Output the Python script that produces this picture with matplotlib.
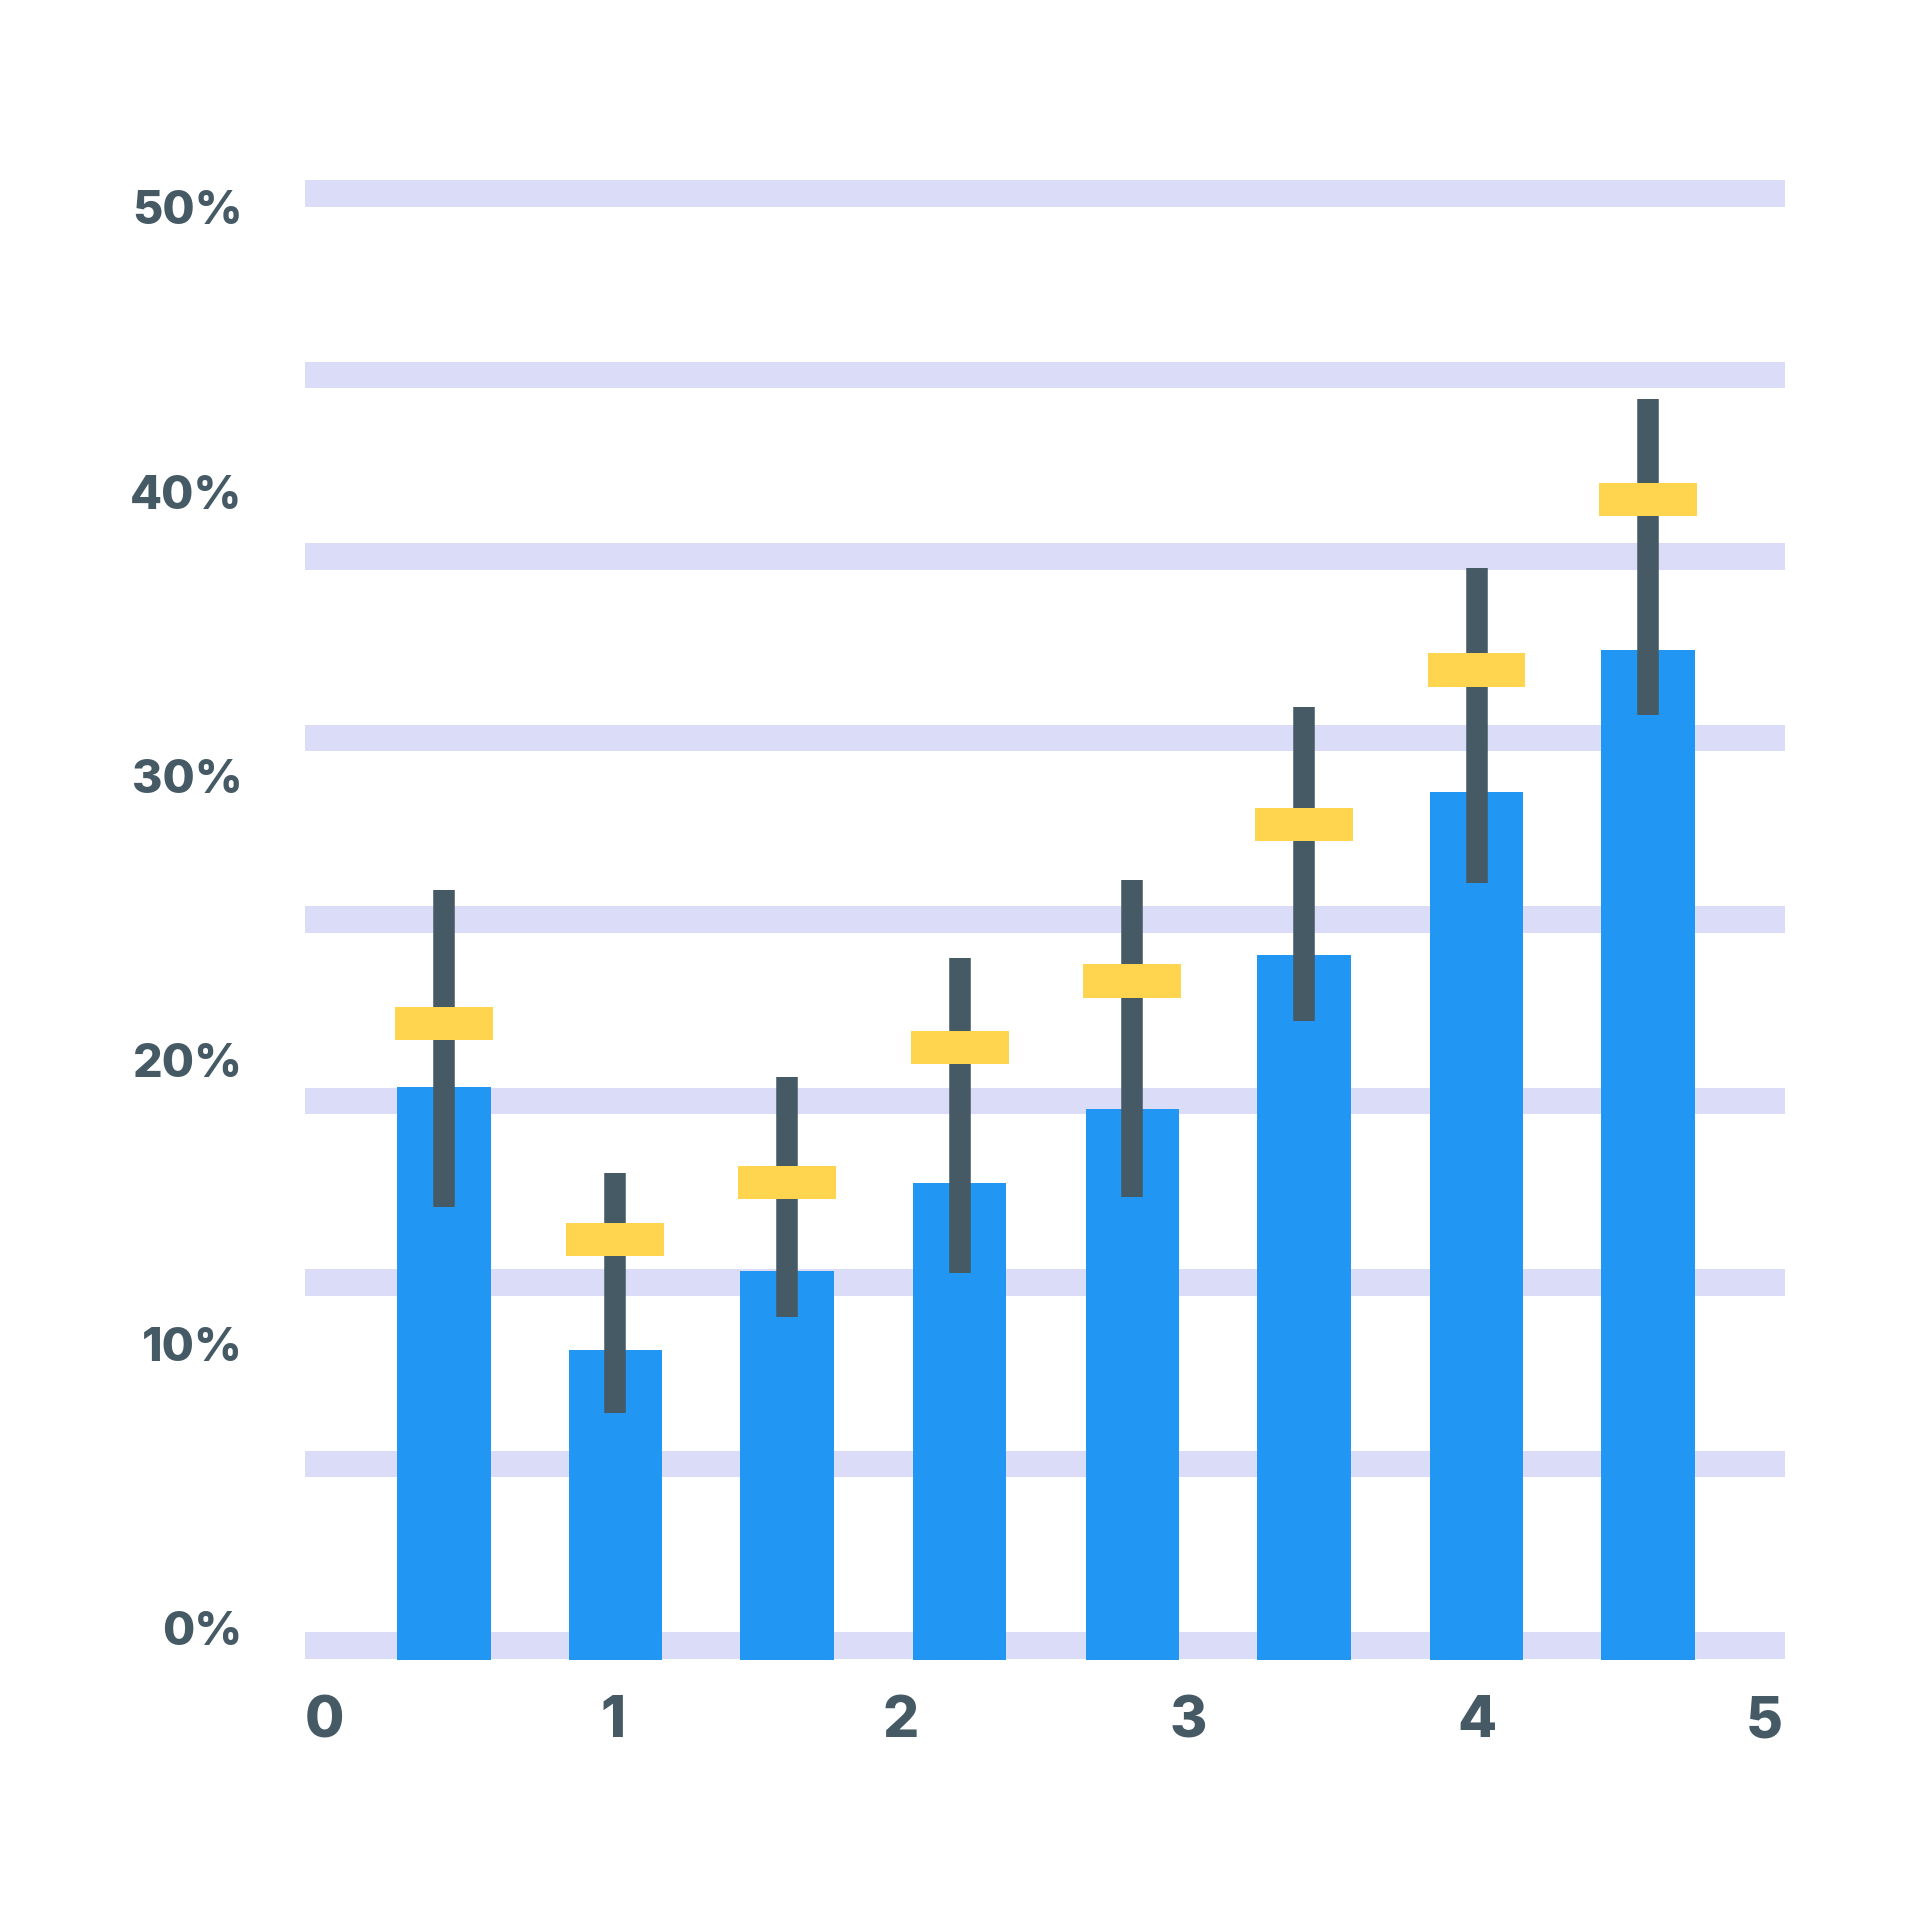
import numpy as np
import matplotlib
matplotlib.use("Agg")
from matplotlib import pyplot as plt

# data (percent)
positions = [0.415, 1.01, 1.605, 2.205, 2.805, 3.4, 4.0, 4.595]
bar_values = [19.05, 9.8, 12.6, 15.7, 18.3, 23.7, 29.45, 34.45]
mean_marks = [21.3, 13.7, 15.7, 20.45, 22.8, 28.3, 33.75, 39.75]
err_high = [26.0, 16.05, 19.4, 23.6, 26.35, 32.45, 37.35, 43.3]
err_low = [14.85, 7.6, 10.95, 12.5, 15.2, 21.4, 26.25, 32.15]
y_ticks = [0, 10, 20, 30, 40, 50]
y_labels = ["0%", "10%", "20%", "30%", "40%", "50%"]
x_ticks = [0, 1, 2, 3, 4, 5]
x_labels = ["0", "1", "2", "3", "4", "5"]

blue = "#2196f3"
yellow = "#ffd54f"
dark = "#455a64"
grid = "#dadcf8"

fig = plt.figure(figsize=(19.2, 19.2), dpi=100)
ax = fig.add_axes([0, 0, 1, 1])
ax.set_xlim(-1.127, 5.54)
ax.set_ylim(-10.26, 57.33)
ax.axis("off")

# lavender bands
baseline = -1.12
for yc in np.linspace(-0.6, 50.52, 9):
    ax.fill_between([-0.068, 5.072], yc - 0.47, yc + 0.47, color=grid, lw=0, zorder=1)

h = np.array(bar_values) - baseline
ax.bar(positions, h, bottom=baseline, width=0.325, color=blue, zorder=2)

lo = np.array(err_low)
hi = np.array(err_high)
ax.vlines(positions, lo, hi, color=dark, lw=15.5, zorder=3)

mh = 1.18
ax.bar(positions, mh, bottom=np.array(mean_marks) - mh / 2, width=0.34,
       color=yellow, zorder=4)

for v, s in zip(y_ticks, y_labels):
    ax.text(-0.285, v - 0.15, s, ha="right", va="center", fontsize=33.5,
            fontweight="heavy", color=dark, family="Inter")
for v, s in zip(x_ticks, x_labels):
    ax.text(v, -3.3, s, ha="center", va="center", fontsize=41,
            fontweight="heavy", color=dark, family="Inter")

fig.savefig("out.png", dpi=100, facecolor="white")
